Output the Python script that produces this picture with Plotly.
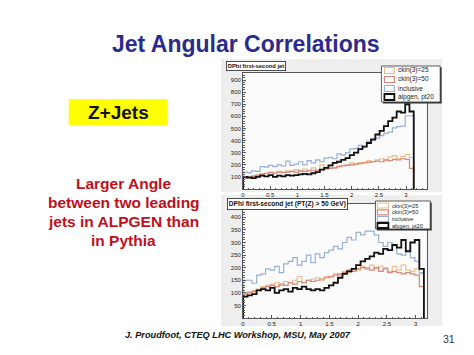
import numpy as np
import plotly.graph_objects as go

W, H = 474, 355
NBINS = 40
PHI_MAX = np.pi

# ---------------- data ----------------
series_names = ["ckin(3)=25", "ckin(3)=50", "inclusive", "alpgen, pt20"]

top_ckin25 = [95, 100, 110, 115, 125, 130, 140, 135, 145, 140,
              150, 145, 160, 150, 165, 155, 175, 160, 200, 165,
              180, 175, 190, 195, 200, 215, 205, 215, 220, 235,
              225, 240, 250, 235, 265, 275, 250, 270, 285, 260]
top_ckin50 = [90, 95, 105, 115, 120, 130, 135, 130, 140, 135,
              140, 145, 140, 150, 145, 150, 155, 150, 160, 165,
              170, 175, 185, 190, 195, 200, 205, 210, 215, 220,
              225, 230, 225, 240, 235, 245, 240, 250, 245, 170]
top_inclusive = [140, 135, 150, 145, 185, 180, 195, 185, 200, 190,
                 230, 195, 205, 225, 200, 235, 215, 240, 225, 255,
                 260, 250, 290, 280, 300, 330, 335, 360, 350, 395,
                 400, 420, 440, 460, 470, 505, 515, 520, 605, 605]
top_alpgen = [100, 95, 90, 100, 110, 105, 115, 100, 110, 105,
              115, 110, 115, 120, 125, 120, 130, 140, 160, 175,
              195, 215, 225, 240, 255, 280, 300, 330, 350, 380,
              410, 450, 480, 520, 560, 590, 640, 630, 700, 640]

bot_ckin25 = [100, 105, 110, 115, 125, 130, 135, 140, 130, 145,
              140, 150, 165, 140, 150, 155, 160, 150, 165, 160,
              175, 170, 185, 180, 195, 190, 205, 200, 210, 195,
              205, 200, 185, 205, 190, 210, 190, 185, 195, 175]
bot_ckin50 = [95, 100, 105, 110, 120, 125, 130, 125, 135, 130,
              140, 135, 145, 140, 150, 145, 150, 155, 160, 165,
              170, 175, 180, 190, 185, 195, 200, 195, 190, 200,
              185, 195, 180, 185, 180, 175, 180, 175, 170, 125]
bot_inclusive = [150, 150, 138, 170, 175, 195, 190, 205, 180, 215,
                 225, 240, 210, 225, 250, 220, 255, 240, 260, 270,
                 285, 275, 300, 320, 310, 340, 330, 345, 345, 330,
                 300, 285, 300, 290, 255, 250, 270, 240, 225, 180]
bot_alpgen = [85, 90, 95, 110, 115, 110, 120, 100, 110, 115,
              105, 120, 115, 125, 115, 110, 115, 110, 120, 130,
              140, 160, 175, 185, 195, 210, 225, 235, 245, 260,
              255, 275, 270, 290, 280, 310, 265, 300, 310, 195]

x_tick_vals = [0, 0.5, 1, 1.5, 2, 2.5, 3]
x_tick_text = ["0", "0.5", "1", "1.5", "2", "2.5", "3"]
top_y_ticks = [100, 200, 300, 400, 500, 600, 700, 800, 900]
bot_y_ticks = [50, 100, 150, 200, 250, 300, 350, 400]

top_title = "DPhi first-second jet"
bot_title = "DPhi first-second jet (PT(Z) &gt; 50 GeV)"

# ---------------- styling ----------------
colors = ["#ecc08a", "#d9857a", "#98b0d6", "#111111"]
widths = [1.2, 1.2, 1.2, 1.8]
FONT = "Liberation Sans, Arial, sans-serif"


def px(x):
    return x / W


def py(y):
    return 1 - y / H


edges = np.linspace(0, PHI_MAX, NBINS + 1)


def step_xy(vals):
    xs = np.concatenate([[0.0], edges, [PHI_MAX]])
    ys = np.concatenate([[0.0], vals, [vals[-1]], [0.0]])
    return xs, ys


fig = go.Figure()

top_series = [top_ckin25, top_ckin50, top_inclusive, top_alpgen]
bot_series = [bot_ckin25, bot_ckin50, bot_inclusive, bot_alpgen]
order = [2, 0, 1, 3]
for i in order:
    xs, ys = step_xy(np.array(top_series[i], dtype=float))
    fig.add_trace(go.Scatter(x=xs, y=ys, mode="lines", line_shape="hv",
                             line=dict(color=colors[i], width=widths[i]),
                             xaxis="x", yaxis="y", showlegend=False,
                             hoverinfo="skip"))
for i in order:
    xs, ys = step_xy(np.array(bot_series[i], dtype=float))
    fig.add_trace(go.Scatter(x=xs, y=ys, mode="lines", line_shape="hv",
                             line=dict(color=colors[i], width=widths[i]),
                             xaxis="x2", yaxis="y2", showlegend=False,
                             hoverinfo="skip"))

axis_common = dict(showline=True, mirror=True, linecolor="#555", linewidth=1,
                   ticks="inside", ticklen=3, tickcolor="#555", tickwidth=0.8,
                   showgrid=False, zeroline=False, fixedrange=True,
                   tickfont=dict(family=FONT, size=6, color="#222"))

fig.update_layout(
    width=W, height=H,
    margin=dict(l=0, r=0, t=0, b=0),
    paper_bgcolor="white", plot_bgcolor="rgba(0,0,0,0)",
    showlegend=False,
    xaxis=dict(domain=[px(234), px(419)], range=[0, 3.39], anchor="y",
               tickvals=x_tick_vals, ticktext=x_tick_text,
               minor=dict(ticks="inside", ticklen=1.5, dtick=0.1, tickcolor="#555"),
               **axis_common),
    yaxis=dict(domain=[py(181), py(65)], range=[0, 958], anchor="x",
               tickvals=top_y_ticks,
               minor=dict(ticks="inside", ticklen=1.5, dtick=20, tickcolor="#555"),
               **axis_common),
    xaxis2=dict(domain=[px(234), px(419)], range=[0, 3.2], anchor="y2",
                tickvals=x_tick_vals, ticktext=x_tick_text,
                minor=dict(ticks="inside", ticklen=1.5, dtick=0.1, tickcolor="#555"),
                **axis_common),
    yaxis2=dict(domain=[py(310), py(196)], range=[0, 453], anchor="x2",
                tickvals=bot_y_ticks,
                minor=dict(ticks="inside", ticklen=1.5, dtick=10, tickcolor="#555"),
                **axis_common),
)

shapes = []
# panel backgrounds and frame fills
for (y0, y1, fy0, fy1) in [(51, 184, 65, 181), (187, 318, 196, 310)]:
    shapes.append(dict(type="rect", xref="paper", yref="paper", layer="below",
                       x0=px(212), x1=px(434), y0=py(y1), y1=py(y0),
                       fillcolor="#eeeeee", line=dict(width=0)))
    shapes.append(dict(type="rect", xref="paper", yref="paper", layer="below",
                       x0=px(234), x1=px(419), y0=py(fy1), y1=py(fy0),
                       fillcolor="#fbfbfb", line=dict(width=0)))

# Z+Jets yellow box
shapes.append(dict(type="rect", xref="paper", yref="paper", layer="below",
                   x0=px(59), x1=px(158), y0=py(117), y1=py(91),
                   fillcolor="#ffff00", line=dict(width=0)))

annotations = []


def add_legend(x0, x1, y0, y1, rows, sx0, sx1, sh, tx, fsize):
    # shadow
    shapes.append(dict(type="rect", xref="paper", yref="paper", layer="above",
                       x0=px(x0 + 1.5), x1=px(x1 + 1.5), y0=py(y1 + 1.5), y1=py(y0 + 1.5),
                       fillcolor="#333", line=dict(width=0)))
    shapes.append(dict(type="rect", xref="paper", yref="paper", layer="above",
                       x0=px(x0), x1=px(x1), y0=py(y1), y1=py(y0),
                       fillcolor="white", line=dict(color="#333", width=0.8)))
    for k, (name, ry) in enumerate(zip(series_names, rows)):
        shapes.append(dict(type="rect", xref="paper", yref="paper", layer="above",
                           x0=px(sx0), x1=px(sx1), y0=py(ry + sh / 2), y1=py(ry - sh / 2),
                           fillcolor="white",
                           line=dict(color=colors[k], width=widths[k])))
        annotations.append(dict(xref="paper", yref="paper", x=px(tx), y=py(ry),
                                xanchor="left", yanchor="middle", showarrow=False,
                                text=name, font=dict(family=FONT, size=fsize, color="#222")))


add_legend(373, 432, 58, 94, [62.5, 71.5, 80.5, 89.0], 376, 386, 6, 388, 6.5)
add_legend(367, 422, 193, 221, [197.5, 204.3, 211.0, 217.5], 369, 380, 5, 382, 5.6)

# histogram title boxes
annotations.append(dict(xref="paper", yref="paper", x=px(217), y=py(58),
                        xanchor="left", yanchor="middle", showarrow=False,
                        text="<b>" + top_title + "</b>",
                        font=dict(family=FONT, size=5.8, color="#111"),
                        bgcolor="white", bordercolor="#222", borderwidth=0.8, borderpad=1))
annotations.append(dict(xref="paper", yref="paper", x=px(218), y=py(195.5),
                        xanchor="left", yanchor="middle", showarrow=False,
                        text="<b>" + bot_title + "</b>",
                        font=dict(family=FONT, size=6.6, color="#111"),
                        bgcolor="white", bordercolor="#222", borderwidth=0.8, borderpad=1))

# slide texts
annotations.append(dict(xref="paper", yref="paper", x=px(237), y=py(36),
                        xanchor="center", yanchor="middle", showarrow=False,
                        text="<b>Jet Angular Correlations</b>",
                        font=dict(family=FONT, size=23, color="#2b2b8c")))
annotations.append(dict(xref="paper", yref="paper", x=px(108.5), y=py(104),
                        xanchor="center", yanchor="middle", showarrow=False,
                        text="<b>Z+Jets</b>",
                        font=dict(family=FONT, size=19, color="#111")))
red_lines = ["Larger Angle", "between two leading", "jets in ALPGEN than", "in Pythia"]
for k, (ln, ly) in enumerate(zip(red_lines, [175, 194, 213, 232])):
    annotations.append(dict(xref="paper", yref="paper", x=px(114), y=py(ly),
                            xanchor="center", yanchor="middle", showarrow=False,
                            text="<b>" + ln + "</b>",
                            font=dict(family=FONT, size=15.5, color="#c0101c")))
annotations.append(dict(xref="paper", yref="paper", x=px(229), y=py(327),
                        xanchor="center", yanchor="middle", showarrow=False,
                        text="<b><i>J. Proudfoot, CTEQ LHC Workshop, MSU, May 2007</i></b>",
                        font=dict(family=FONT, size=9.2, color="#111")))
annotations.append(dict(xref="paper", yref="paper", x=px(441), y=py(331),
                        xanchor="center", yanchor="middle", showarrow=False,
                        text="31", font=dict(family=FONT, size=10.5, color="#333")))

fig.update_layout(shapes=shapes, annotations=annotations)
fig.write_html("out.html")
